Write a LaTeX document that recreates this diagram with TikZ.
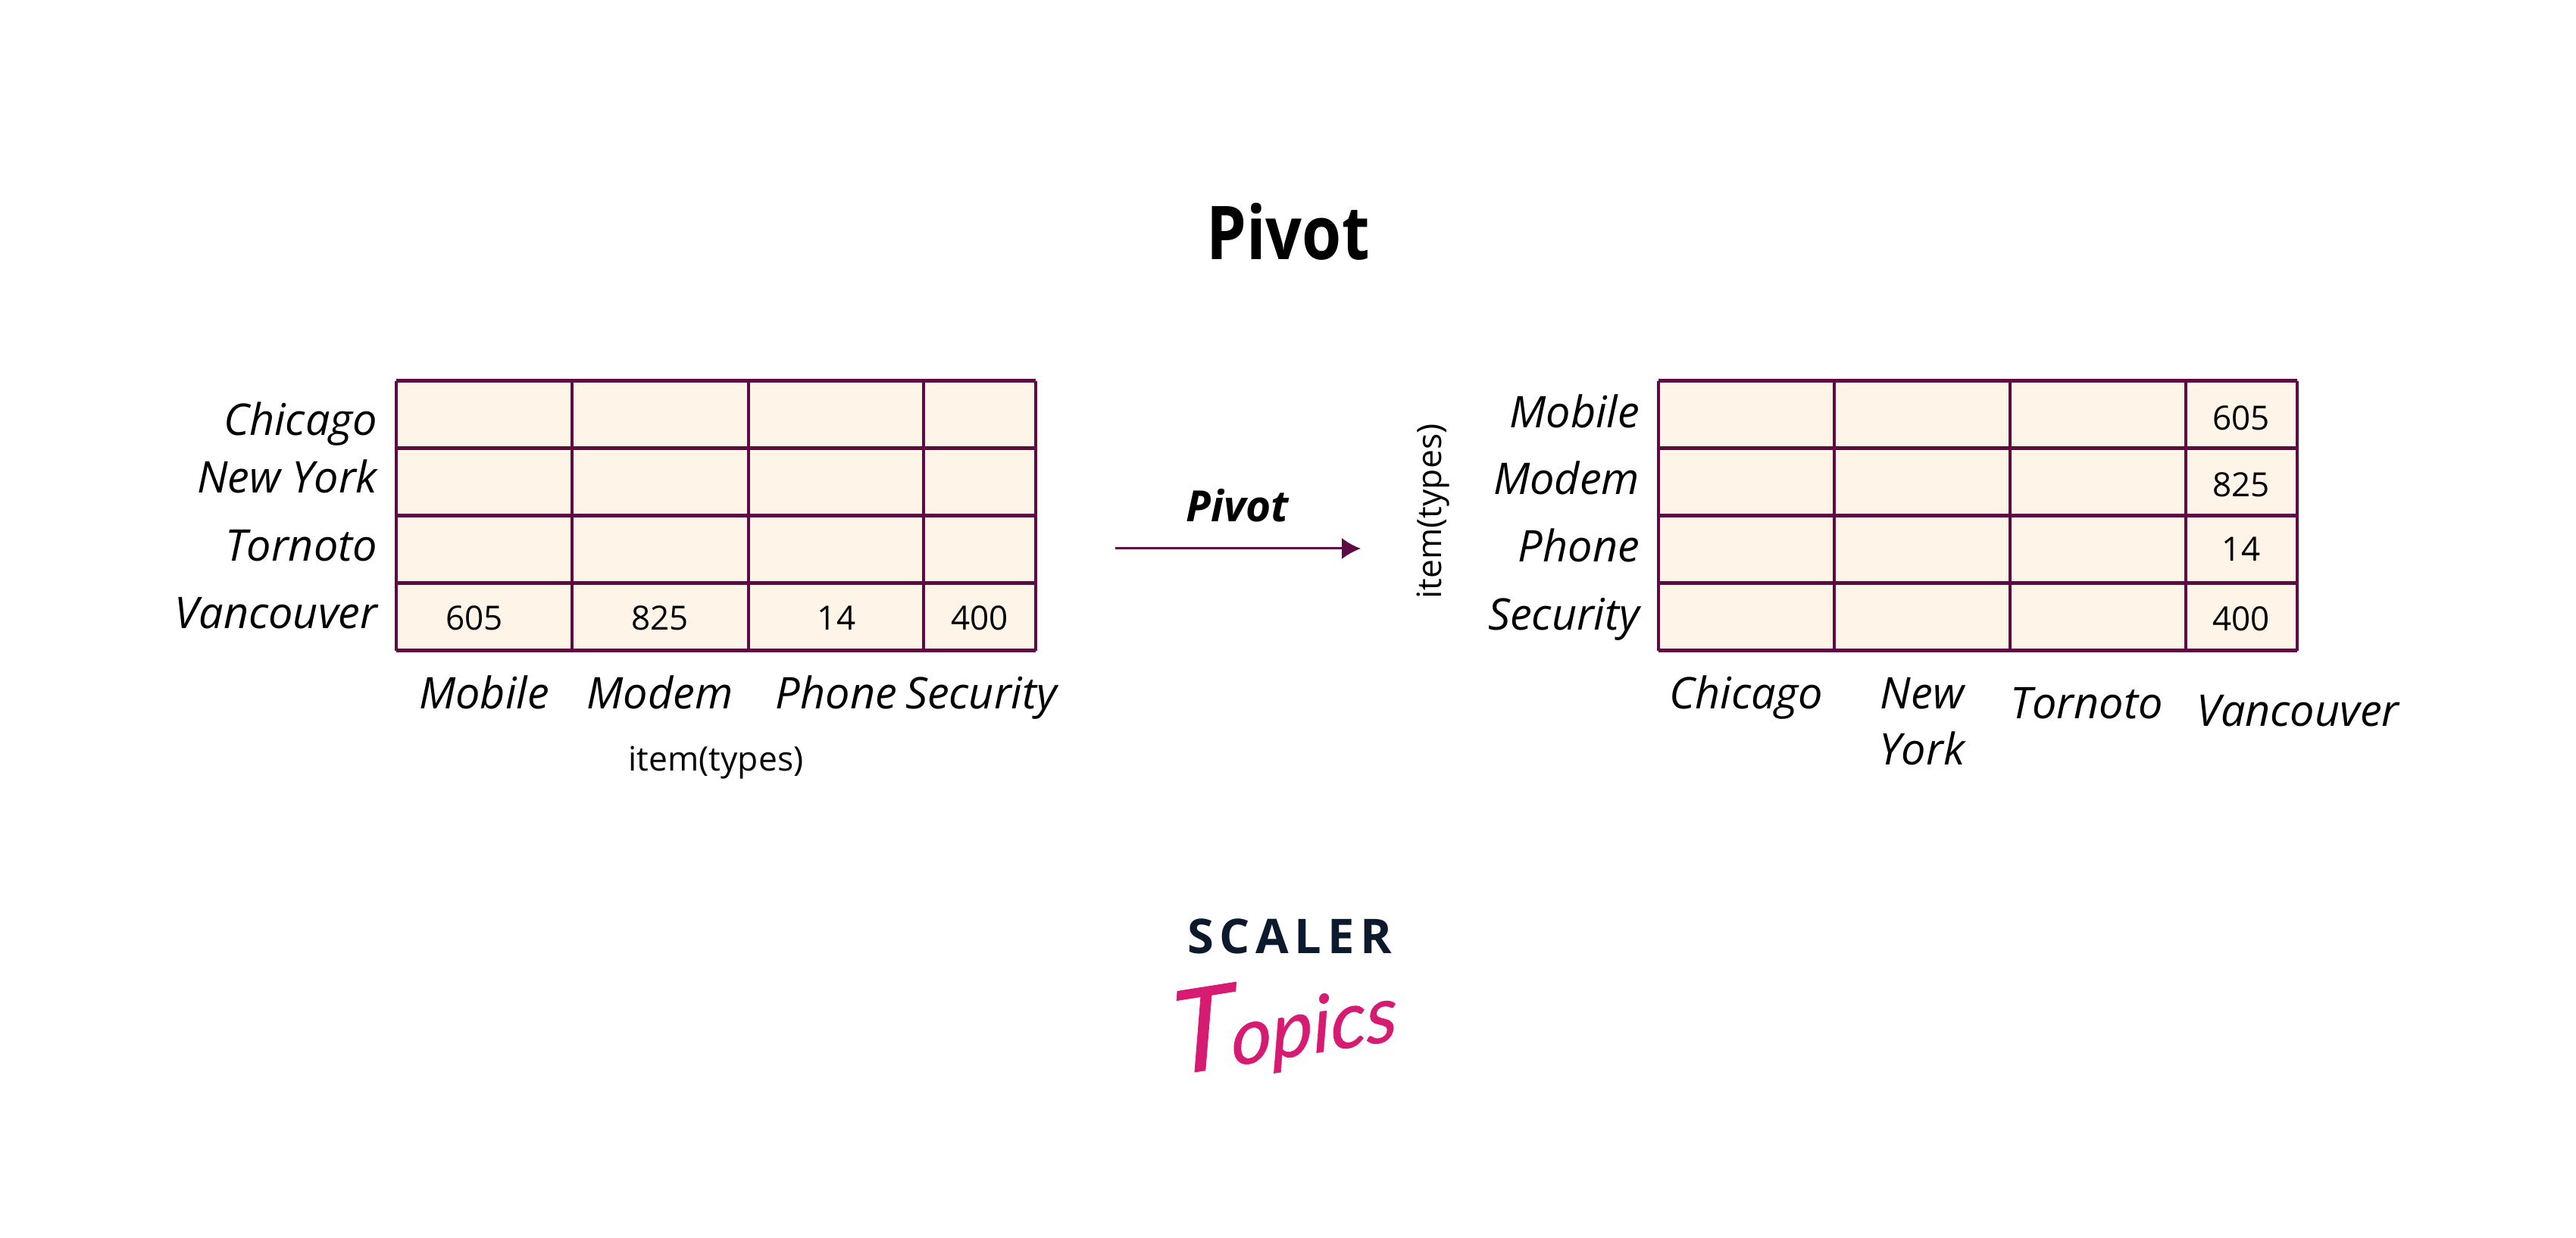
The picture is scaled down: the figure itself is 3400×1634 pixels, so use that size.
\documentclass[tikz,border=0pt]{standalone}
\usepackage{fontspec}
\setmainfont{Open Sans}
\newfontfamily\logofont{Lato}
\usetikzlibrary{arrows.meta}
\definecolor{gridc}{HTML}{5E0B43}
\definecolor{cellc}{HTML}{FEF4E8}
\definecolor{navyc}{HTML}{0D1A2D}
\definecolor{pinkc}{HTML}{D81B72}
\tikzset{
  x=0.25pt,y=-0.25pt,
  lab/.style={inner sep=0pt,outer sep=0pt,font=\fontsize{14.4}{17}\selectfont\itshape},
  labr/.style={lab,anchor=base east},
  labc/.style={lab,anchor=base},
  num/.style={inner sep=0pt,outer sep=0pt,anchor=base,font=\fontsize{11}{13}\selectfont},
  axislab/.style={inner sep=0pt,outer sep=0pt,anchor=base,font=\fontsize{11.1}{13}\selectfont},
  thinline/.style={draw=gridc,line width=0.85pt},
  thickline/.style={draw=gridc,line width=1.25pt},
}
\begin{document}
\begin{tikzpicture}
\useasboundingbox (0,0) rectangle (3400,1634);
\fill[white] (0,0) rectangle (3400,1634);
% title
\node[inner sep=0pt,anchor=base,xscale=0.86,font=\fontsize{24.5}{28}\selectfont\bfseries] (title) at (1700,343) {Pivot};
% left table
\fill[cellc] (523,503) rectangle (1367,859);
\foreach \x in {755,988,1219} \draw[thinline] (\x,503) -- (\x,859);
\draw[thinline] (523,503) -- (523,859) (1367,503) -- (1367,859);
\foreach \y in {503,592,681,770,859} \draw[thickline] (523,\y) -- (1367,\y);
% right table
\fill[cellc] (2189,503) rectangle (3032,859);
\foreach \x in {2421,2653,2885} \draw[thinline] (\x,503) -- (\x,859);
\draw[thinline] (2189,503) -- (2189,859) (3032,503) -- (3032,859);
\foreach \y in {503,592,681,770,859} \draw[thickline] (2189,\y) -- (3032,\y);
% left row labels
\node[labr] (lchi) at (498,575) {Chicago};
\node[labr] (lny) at (498,651) {New York};
\node[labr] (ltor) at (498,741) {Tornoto};
\node[labr] (lvan) at (498,830) {Vancouver};
% left column labels
\node[labc] (lmob) at (639,935) {Mobile};
\node[labc] (lmod) at (871,935) {Modem};
\node[labc] (lpho) at (1104,935) {Phone};
\node[labc] (lsec) at (1295,935) {Security};
\node[axislab] (litem) at (945,1017) {item(types)};
% left numbers
\node[num] (ln1) at (626,831) {605};
\node[num] (ln2) at (871,831) {825};
\node[num] (ln3) at (1104,831) {14};
\node[num] (ln4) at (1293,831) {400};
% arrow
\coordinate (as) at (1472,724);
\coordinate (ae) at (1796,724);
\draw[draw=gridc,line width=0.75pt,-{Latex[length=6.2pt,width=7pt]}] (as) -- (ae);
\node[inner sep=0pt,anchor=base,font=\fontsize{14.2}{17}\selectfont\bfseries\itshape] (plab) at (1633,689) {Pivot};
% right row labels
\node[labr] (rmob) at (2164,565) {Mobile};
\node[labr] (rmod) at (2164,653) {Modem};
\node[labr] (rpho) at (2164,742) {Phone};
\node[labr] (rsec) at (2164,831) {Security};
\node[axislab,rotate=90] (ritem) at (1902,675) {item(types)};
% right column labels
\node[labc] (rchi) at (2305,935) {Chicago};
\node[labc] (rnew) at (2537,935) {New};
\node[labc] (ryor) at (2537,1009) {York};
\node[labc] (rtor) at (2754,948) {Tornoto};
\node[labc] (rvan) at (3033,958) {Vancouver};
% right numbers
\node[num] (rn1) at (2958,568) {605};
\node[num] (rn2) at (2958,656) {825};
\node[num] (rn3) at (2958,741) {14};
\node[num] (rn4) at (2958,832) {400};
% logo
\node[inner sep=0pt,anchor=base,text=navyc,font=\fontsize{15.8}{18}\selectfont\bfseries\addfontfeatures{LetterSpace=12}] (scaler) at (1702,1258) {SCALER};
\node[inner sep=0pt,anchor=base,text=pinkc,rotate=9,xslant=0.12,font=\logofont\fontsize{26}{30}\selectfont\itshape\addfontfeatures{FakeBold=0.5}] (topics) at (1697,1396) {{\fontsize{38}{38}\selectfont T}\kern-1pt opics};
\end{tikzpicture}
\end{document}
